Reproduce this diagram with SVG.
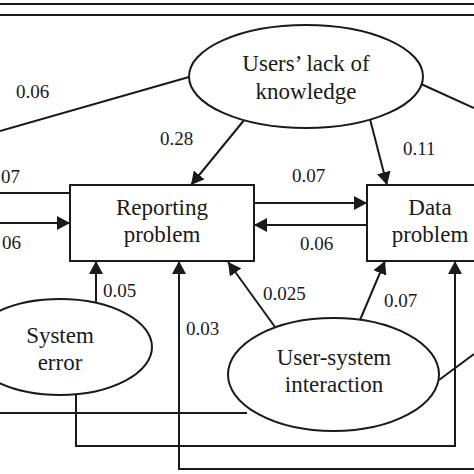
<svg xmlns="http://www.w3.org/2000/svg" width="474" height="474" viewBox="0 0 474 474">
<style>
.n{fill:#fff;stroke:#1a1a1a;stroke-width:2}
.t{font-family:"Liberation Serif","Times New Roman",serif;font-size:23px;fill:#1a1a1a;text-anchor:middle}
.l{font-family:"Liberation Serif","Times New Roman",serif;font-size:19px;fill:#1a1a1a}
.c{fill:none;stroke:#1a1a1a;stroke-width:2}
.a{marker-end:url(#ah)}
</style>
<defs>
<marker id="ah" markerWidth="14" markerHeight="14" refX="13" refY="7" orient="auto" markerUnits="userSpaceOnUse">
<path d="M0,0 L13,7 L0,14 z" fill="#1a1a1a"/>
</marker>
</defs>
<rect width="474" height="474" fill="#fff"/>
<g id="frame">
<line x1="0" y1="4" x2="474" y2="4" class="c"/>
<line x1="0" y1="15" x2="474" y2="15" class="c"/>
</g>
<g id="connectors">
<line x1="189" y1="77" x2="0" y2="131" class="c"/>
<line x1="421" y1="84" x2="474" y2="108" class="c"/>
<line x1="245" y1="119" x2="191" y2="185" class="c a"/>
<line x1="370" y1="119" x2="387" y2="185" class="c a"/>
<line x1="254" y1="203" x2="367" y2="203" class="c a"/>
<line x1="367" y1="225" x2="254" y2="225" class="c a"/>
<line x1="0" y1="193" x2="70" y2="193" class="c"/>
<line x1="0" y1="223" x2="70" y2="223" class="c a"/>
<line x1="96" y1="303" x2="96" y2="261" class="c a"/>
<path d="M474,469 H179 V261" class="c a"/>
<path d="M76,394 V446 H455 V261" class="c a"/>
<line x1="0" y1="413" x2="247" y2="413" class="c"/>
<line x1="275" y1="327" x2="228" y2="262" class="c a"/>
<line x1="360" y1="320" x2="385" y2="261" class="c a"/>
<line x1="439" y1="380" x2="474" y2="354" class="c"/>
</g>
<g id="labels">
<text x="16" y="98" class="l">0.06</text>
<text x="160" y="145" class="l">0.28</text>
<text x="403" y="155" class="l">0.11</text>
<text x="292" y="182" class="l">0.07</text>
<text x="300" y="250" class="l">0.06</text>
<text x="1" y="183" class="l">07</text>
<text x="2" y="249" class="l">06</text>
<text x="103" y="297" class="l">0.05</text>
<text x="186" y="335" class="l">0.03</text>
<text x="263" y="300" class="l">0.025</text>
<text x="384" y="307" class="l">0.07</text>
</g>
<g id="users-lack-of-knowledge">
<ellipse cx="306" cy="76.5" rx="117" ry="51.5" class="n"/>
<text x="306" y="71" class="t">Users’ lack of</text>
<text x="306" y="99" class="t">knowledge</text>
</g>
<g id="reporting-problem">
<rect x="70" y="185" width="184" height="76" class="n"/>
<text x="162" y="215" class="t">Reporting</text>
<text x="162" y="242" class="t">problem</text>
</g>
<g id="data-problem">
<rect x="367" y="185" width="130" height="76" class="n"/>
<text x="430" y="215" class="t">Data</text>
<text x="430" y="242" class="t">problem</text>
</g>
<g id="system-error">
<ellipse cx="60" cy="347" rx="92" ry="48" class="n"/>
<text x="60" y="343" class="t">System</text>
<text x="60" y="370" class="t">error</text>
</g>
<g id="user-system-interaction">
<ellipse cx="333.5" cy="374.5" rx="105.5" ry="56.5" class="n"/>
<text x="334" y="365" class="t">User-system</text>
<text x="334" y="392" class="t">interaction</text>
</g>
</svg>
